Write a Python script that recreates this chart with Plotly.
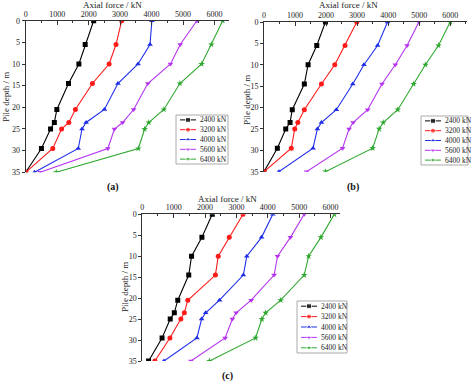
import plotly.graph_objects as go

depths = [0, 5.5, 10, 14.5, 20.5, 23.5, 25, 29.5, 35]
series_names = ["2400 kN", "3200 kN", "4000 kN", "5600 kN", "6400 kN"]

a_2400 = [2160, 1890, 1690, 1360, 990, 910, 790, 500, 0]
a_3200 = [3050, 2870, 2650, 2120, 1580, 1370, 1140, 860, 0]
a_4000 = [4010, 3950, 3570, 2930, 2500, 1920, 1790, 1670, 280]
a_5600 = [5440, 4910, 4600, 3880, 3430, 3080, 2820, 2610, 460]
a_6400 = [6260, 5900, 5590, 4900, 4390, 3910, 3780, 3580, 970]

b_2400 = [1980, 1700, 1420, 1300, 910, 840, 700, 430, 0]
b_3200 = [2990, 2610, 2280, 1850, 1300, 1090, 990, 880, 0]
b_4000 = [3980, 3660, 3220, 2860, 2330, 1850, 1720, 1580, 480]
b_5600 = [4990, 4610, 4230, 3800, 3340, 2870, 2740, 2530, 1370]
b_6400 = [6000, 5620, 5200, 4820, 4310, 3840, 3710, 3500, 1980]

c_2400 = [2230, 1900, 1570, 1480, 1130, 1020, 890, 630, 200]
c_3200 = [3210, 2770, 2420, 2330, 1450, 1340, 1230, 880, 400]
c_4000 = [4160, 3800, 3330, 3220, 2460, 2020, 1890, 1740, 690]
c_5600 = [5160, 4720, 4310, 4200, 3470, 2990, 2870, 2640, 1550]
c_6400 = [6120, 5690, 5300, 5160, 4410, 3930, 3810, 3610, 2140]

x_ticks = [0, 1000, 2000, 3000, 4000, 5000, 6000]
y_ticks = [0, 5, 10, 15, 20, 25, 30, 35]
panel_labels = ["(a)", "(b)", "(c)"]

colors = ["#000000", "#ff1a1a", "#1f2fe8", "#b533f0", "#2ea82e"]
symbols = ["square", "circle", "triangle-up", "triangle-down", "star"]

panels = [
    dict(data=[a_2400, a_3200, a_4000, a_5600, a_6400], xd=[25.7, 229], yd=[20.7, 172.3], xr=6460,
         leg=(176, 115, 228, 164), lab=(113, 187), title=(112, 5), ytitle=(6, 97)),
    dict(data=[b_2400, b_3200, b_4000, b_5600, b_6400], xd=[264, 467], yd=[22, 171.7], xr=6540,
         leg=(421, 116, 468, 165), lab=(353, 187), title=(348, 5), ytitle=(247, 100)),
    dict(data=[c_2400, c_3200, c_4000, c_5600, c_6400], xd=[142.3, 340], yd=[214.3, 361], xr=6300,
         leg=(297, 301, 347, 353), lab=(227, 376), title=(227, 199), ytitle=(125, 287)),
]

W, H = 474, 383
FONT = "Liberation Serif"
fig = go.Figure()
layout = dict(width=W, height=H, margin=dict(l=0, r=0, t=0, b=0, autoexpand=False),
              paper_bgcolor="white", plot_bgcolor="rgba(0,0,0,0)", showlegend=False,
              font=dict(family=FONT, size=8, color="#222"))
annotations = []
shapes = []

# overlay pixel axis for the hand-made legends
layout["xaxis4"] = dict(domain=[0, 1], range=[0, W], visible=False, anchor="y4", fixedrange=True)
layout["yaxis4"] = dict(domain=[0, 1], range=[H, 0], visible=False, anchor="x4", fixedrange=True)

for i, p in enumerate(panels):
    sfx = "" if i == 0 else str(i + 1)
    for j, vals in enumerate(p["data"]):
        fig.add_trace(go.Scatter(
            x=vals, y=depths, mode="lines+markers", name=series_names[j],
            line=dict(color=colors[j], width=1.1),
            marker=dict(symbol=symbols[j], size=5, color=colors[j]),
            xaxis="x" + sfx, yaxis="y" + sfx))
    layout["xaxis" + sfx] = dict(
        domain=[p["xd"][0] / W, p["xd"][1] / W], range=[0, p["xr"]], side="top",
        anchor="y" + sfx, showline=True, linecolor="#333", linewidth=1, showgrid=False,
        zeroline=False, tickvals=x_ticks, ticks="inside", ticklen=4, tickcolor="#333",
        minor=dict(ticks="inside", ticklen=2, dtick=500, tick0=0, tickcolor="#333"),
        tickfont=dict(family=FONT, size=8, color="#222"))
    layout["yaxis" + sfx] = dict(
        domain=[1 - p["yd"][1] / H, 1 - p["yd"][0] / H], range=[35, 0],
        anchor="x" + sfx, showline=True, linecolor="#333", linewidth=1, showgrid=False,
        zeroline=False, tickvals=y_ticks, ticks="outside", ticklen=3, tickcolor="#333",
        tickfont=dict(family=FONT, size=8, color="#222"))

    # legend box
    x0, y0, x1, y1 = p["leg"]
    shapes.append(dict(type="rect", xref="paper", yref="paper", x0=x0 / W, x1=x1 / W,
                       y0=1 - y1 / H, y1=1 - y0 / H, line=dict(color="#aaa", width=1),
                       fillcolor="white", layer="below"))
    step = (y1 - y0) / 5.0
    for j in range(5):
        yy = y0 + step * (j + 0.5)
        fig.add_trace(go.Scatter(
            x=[x0 + 4, x0 + 12, x0 + 20], y=[yy, yy, yy], mode="lines+markers",
            line=dict(color=colors[j], width=1),
            marker=dict(symbol=symbols[j], size=[0, 5, 0], color=colors[j]),
            xaxis="x4", yaxis="y4", hoverinfo="skip"))
        annotations.append(dict(x=(x0 + 22) / W, y=1 - yy / H, xref="paper", yref="paper",
                                xanchor="left", yanchor="middle", text=series_names[j],
                                showarrow=False, font=dict(family=FONT, size=7.5, color="#222")))

    annotations.append(dict(x=p["lab"][0] / W, y=1 - p["lab"][1] / H, xref="paper", yref="paper",
                            xanchor="center", yanchor="middle", text="<b>" + panel_labels[i] + "</b>",
                            showarrow=False, font=dict(family=FONT, size=10, color="#111")))
    annotations.append(dict(x=p["title"][0] / W, y=1 - p["title"][1] / H, xref="paper", yref="paper",
                            xanchor="center", yanchor="middle",
                            text="Axial force / kN", showarrow=False,
                            font=dict(family=FONT, size=9, color="#222")))
    annotations.append(dict(x=p["ytitle"][0] / W, y=1 - p["ytitle"][1] / H, xref="paper", yref="paper",
                            xanchor="center", yanchor="middle",
                            text="Pile depth / m", showarrow=False, textangle=-90,
                            font=dict(family=FONT, size=9, color="#222")))

layout["annotations"] = annotations
layout["shapes"] = shapes
fig.update_layout(**layout)
fig.write_html("out.html", config={"displayModeBar": False},
               post_script="document.body.style.margin='0';document.body.style.padding='0';")
